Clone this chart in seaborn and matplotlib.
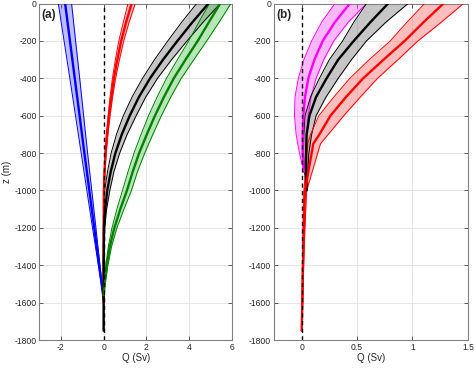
import numpy as np
import pandas as pd
import matplotlib
matplotlib.use("Agg")
import matplotlib.pyplot as plt
import seaborn as sns

# ---------------- data ----------------
# Panel (a)
blue_z = [0, -400, -800, -1200, -1580]
blue_c = [-1.80, -1.35, -0.90, -0.44, 0.0]
blue_lo = [-2.12, -1.58, -1.05, -0.52, 0.0]
blue_hi = [-1.50, -1.12, -0.75, -0.36, 0.0]

reda_z = [0, -100, -200, -300, -400, -500, -600, -700, -800, -900, -1000, -1200, -1400, -1600]
reda_c = [1.31, 1.05, 0.82, 0.64, 0.48, 0.36, 0.25, 0.16, 0.09, 0.04, 0.01, 0.0, 0.0, 0.0]
reda_lo = [1.14, 0.92, 0.71, 0.55, 0.41, 0.30, 0.21, 0.13, 0.07, 0.03, 0.0, 0.0, 0.0, 0.0]
reda_hi = [1.48, 1.19, 0.94, 0.74, 0.56, 0.42, 0.30, 0.20, 0.12, 0.06, 0.02, 0.0, 0.0, 0.0]

blka_z = [0, -100, -200, -300, -400, -500, -600, -700, -800, -900, -1000, -1100, -1200, -1400, -1600, -1750]
blka_c = [4.90, 4.15, 3.45, 2.78, 2.17, 1.65, 1.22, 0.85, 0.55, 0.33, 0.17, 0.07, 0.02, 0.0, 0.0, 0.0]
blka_lo = [4.35, 3.65, 3.00, 2.38, 1.82, 1.33, 0.92, 0.60, 0.35, 0.18, 0.05, 0.0, -0.01, -0.01, 0.0, 0.0]
blka_hi = [5.45, 4.65, 3.90, 3.18, 2.52, 1.97, 1.52, 1.10, 0.75, 0.48, 0.29, 0.14, 0.05, 0.01, 0.0, 0.0]

grn_z = [0, -100, -200, -300, -400, -500, -600, -700, -800, -900, -1000, -1100, -1200, -1300, -1400, -1500, -1560]
grn_c = [5.45, 4.92, 4.40, 3.83, 3.28, 2.82, 2.40, 2.02, 1.66, 1.36, 1.09, 0.78, 0.50, 0.29, 0.15, 0.05, 0.0]
grn_lo = [4.95, 4.45, 3.98, 3.45, 2.94, 2.50, 2.10, 1.75, 1.42, 1.14, 0.88, 0.62, 0.39, 0.22, 0.10, 0.03, 0.0]
grn_hi = [5.95, 5.40, 4.82, 4.22, 3.63, 3.14, 2.70, 2.30, 1.92, 1.58, 1.30, 0.95, 0.62, 0.37, 0.20, 0.07, 0.0]

# Panel (b)
mag_z = [0, -100, -200, -300, -400, -500, -600, -700, -800, -900]
mag_c = [0.435, 0.30, 0.19, 0.115, 0.06, 0.03, 0.015, 0.01, 0.01, 0.02]
mag_lo = [0.30, 0.18, 0.09, 0.02, -0.03, -0.06, -0.065, -0.05, -0.02, 0.02]
mag_hi = [0.585, 0.42, 0.29, 0.20, 0.13, 0.085, 0.06, 0.045, 0.035, 0.02]

blkb_z = [0, -100, -200, -300, -400, -500, -600, -700, -800, -900, -1000]
blkb_c = [0.78, 0.62, 0.47, 0.33, 0.225, 0.13, 0.07, 0.045, 0.04, 0.04, 0.045]
blkb_lo = [0.585, 0.47, 0.37, 0.25, 0.16, 0.08, 0.03, 0.02, 0.015, 0.025, 0.045]
blkb_hi = [0.96, 0.76, 0.585, 0.45, 0.33, 0.22, 0.13, 0.09, 0.065, 0.055, 0.045]

redb_z = [0, -100, -200, -300, -400, -500, -600, -700, -750, -1000, -1200, -1400, -1600, -1750]
redb_c = [1.28, 1.10, 0.93, 0.74, 0.555, 0.40, 0.26, 0.16, 0.105, 0.03, 0.02, 0.012, 0.006, 0.0]
redb_lo = [1.11, 0.95, 0.80, 0.61, 0.435, 0.29, 0.155, 0.08, 0.055, 0.02, 0.012, 0.006, 0.002, 0.0]
redb_hi = [1.46, 1.26, 1.05, 0.87, 0.685, 0.53, 0.38, 0.24, 0.17, 0.045, 0.03, 0.018, 0.01, 0.0]

yticks = [0, -200, -400, -600, -800, -1000, -1200, -1400, -1600, -1800]
xticks_a = [-2, 0, 2, 4, 6]
xticks_b = [0, 0.5, 1, 1.5]
xticklabels_b = ["0", "0.5", "1", "1.5"]

# ---------------- style ----------------
sns.set_theme(style="white")
plt.rcParams["font.family"] = ["Liberation Sans", "DejaVu Sans"]
plt.rcParams["axes.unicode_minus"] = False

fig = plt.figure(figsize=(4.74, 3.68), dpi=100)
axA = fig.add_axes([0.0833, 0.076, 0.406, 0.9144])
axB = fig.add_axes([0.578, 0.076, 0.409, 0.9144])


def band(ax, z, c, lo, hi, color, fill):
    ax.fill_betweenx(z, lo, hi, color=fill, alpha=0.38, lw=0, zorder=2)
    for arr in (lo, hi):
        sns.lineplot(x=arr, y=z, ax=ax, orient="y", sort=False, estimator=None,
                     color=color, lw=0.7, zorder=3)
    sns.lineplot(x=c, y=z, ax=ax, orient="y", sort=False, estimator=None,
                 color=color, lw=1.7, zorder=4)


band(axA, blue_z, blue_c, blue_lo, blue_hi, "#0000ff", "#5555ff")
band(axA, reda_z, reda_c, reda_lo, reda_hi, "#ff0000", "#ff5555")
band(axA, blka_z, blka_c, blka_lo, blka_hi, "#000000", "#6a6a6a")
band(axA, grn_z, grn_c, grn_lo, grn_hi, "#008000", "#44c044")

band(axB, mag_z, mag_c, mag_lo, mag_hi, "#ff00ff", "#ff44ff")
band(axB, blkb_z, blkb_c, blkb_lo, blkb_hi, "#000000", "#6a6a6a")
band(axB, redb_z, redb_c, redb_lo, redb_hi, "#ff0000", "#ff5555")

for ax, lab in ((axA, "(a)"), (axB, "(b)")):
    ax.axvline(0, ls="--", color="black", lw=1.0, dashes=(3, 2.5), zorder=6)
    ax.set_ylim(-1800, 0)
    ax.set_yticks(yticks)
    ax.set_yticklabels([str(t) for t in yticks])
    ax.grid(True, color="#e3e3e3", lw=0.6, zorder=0)
    ax.set_axisbelow(True)
    for s in ax.spines.values():
        s.set_color("#808080")
        s.set_linewidth(0.8)
    ax.tick_params(direction="in", length=3, width=0.6, color="#404040",
                   labelsize=6.2, labelcolor="#262626", top=True, right=True,
                   bottom=True, left=True, pad=2)
    ax.set_xlabel("Q (Sv)", fontsize=7, color="#262626", labelpad=1)
    ax.set_ylabel("")
    ax.text(0.012, 0.985, lab, transform=ax.transAxes, fontsize=8.5,
            fontweight="bold", ha="left", va="top", zorder=10)

axA.set_xlim(-3, 6)
axA.set_xticks(xticks_a)
axA.set_xticklabels([str(t) for t in xticks_a])
axA.set_ylabel("z (m)", fontsize=7, color="#262626", labelpad=2)

axB.set_xlim(-0.25, 1.5)
axB.set_xticks(xticks_b)
axB.set_xticklabels(xticklabels_b)

fig.savefig("out.png", dpi=100)
